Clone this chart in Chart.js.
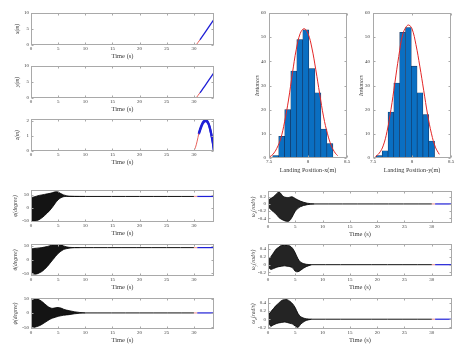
<!DOCTYPE html>
<html><head><meta charset="utf-8">
<script src="https://cdn.jsdelivr.net/npm/chart.js@4"></script>
<style>
html,body{margin:0;padding:0;background:#fff;}
body{width:474px;height:355px;position:relative;overflow:hidden;}
canvas{position:absolute;}
</style></head><body>
<script>
// ---------------- DATA ----------------
const TIME_MAX = 33.7;
const timeTicks  = [0, 5, 10, 15, 20, 25, 30];
const posTicks   = [0, 5, 10];
const zTicks     = [0, 1, 2];
const angTicks   = [-50, 0, 50];
const rateXTicks = [-0.4, -0.2, 0, 0.2];
const rateYTicks = [-0.2, 0, 0.2, 0.4];
const rateZTicks = [-0.2, 0, 0.2, 0.4];
const histYTicks = [0, 10, 20, 30, 40, 50, 60];
const histXTicks = [7.5, 8, 8.5];

// Position: red launch part, blue flight part
const xRedT = [30.4, 31.1];
const xRedV = [0, 1.6];
const xBlueT = [31.1, 32.0, 33.0, 33.7];
const xBlueV = [1.6, 3.8, 6.3, 8.0];
const yRedT = [30.4, 31.1];
const yRedV = [0, 1.6];
const yBlueT = [31.1, 32.0, 33.0, 33.7];
const yBlueV = [1.6, 3.7, 6.2, 7.9];
const zRedT = [30.0, 30.3, 30.6, 30.9];
const zRedV = [0, 0.25, 0.65, 1.15];
const zBlueT = [30.9, 31.2, 31.5, 31.8, 32.1, 32.4, 32.7, 33.0, 33.3, 33.5, 33.7];
const zBlueV = [1.15, 1.5, 1.78, 1.95, 2.02, 1.98, 1.8, 1.45, 0.95, 0.55, 0.0];
const zBlue2V = [1.1, 1.42, 1.7, 1.88, 1.96, 1.93, 1.76, 1.4, 0.9, 0.5, 0.0];

// Euler angle bundles (envelope of all Monte-Carlo runs)
const phiEnvT   = [0,0.5,1,1.5,2,2.5,3,3.5,4,4.5,5,5.5,6,6.5,7,8,9,10];
const phiUpper  = [40,43,46,49,51,53,55,57,60,63,62,56,51,48,46,45.3,45.1,45];
const phiLower  = [-52,-51,-49,-45,-38,-29,-19,-8,5,20,32,40,44,45,45,45,45,45];
const phiFinal  = 45;

const thetaEnvT  = [0,0.5,1,1.5,2,2.5,3,3.5,4,4.5,5,5.5,6,6.5,7,8,9];
const thetaUpper = [38,40,41,42,43,45,47,50,53,55,56,53,49,46,44,43,43];
const thetaLower = [-50,-52,-52,-48,-43,-35,-25,-13,-1,11,22,30,36,39,41,43,43];
const thetaFinal = 43;

const psiEnvT  = [0,0.4,1,1.5,2,2.5,3,3.5,4,4.5,5,5.5,6,6.5,7,8,9,10];
const psiUpper = [40,52,50,46,40,32,24,18,16,18,19,17,13,10,8,4,1.5,0];
const psiLower = [-40,-50,-48,-45,-40,-34,-28,-22,-18,-15,-12,-10,-8,-7,-6,-3,-1,0];
const psiFinal = 0;

// Angular rate bundles
const wxEnvT  = [0,0.7,1,1.7,2,2.9,3.8,4.4,5,5.9,7.2,8.5];
const wxUpper = [0.1,0.17,0.2,0.3,0.34,0.2,0.18,0.2,0.15,0.08,0.02,0];
const wxLower = [-0.08,-0.18,-0.22,-0.32,-0.38,-0.46,-0.48,-0.37,-0.2,-0.08,-0.02,0];

const wyEnvT  = [0,0.5,1,1.5,2,2.5,3,3.5,4,4.5,5,5.5,6,6.5,7,8];
const wyUpper = [0.1,0.2,0.3,0.4,0.45,0.5,0.5,0.5,0.48,0.42,0.3,0.15,0.06,0.03,0.01,0];
const wyLower = [-0.05,-0.12,-0.1,-0.07,-0.05,-0.04,-0.03,-0.04,-0.05,-0.08,-0.17,-0.18,-0.14,-0.09,-0.05,0];

const wzEnvT  = [0,0.5,1,1.5,2,2.5,3,3.5,4,4.5,5,5.5,6,6.5,7,8];
const wzUpper = [0.09,0.18,0.26,0.34,0.4,0.46,0.48,0.48,0.44,0.38,0.28,0.14,0.06,0.03,0.01,0];
const wzLower = [-0.07,-0.17,-0.14,-0.11,-0.09,-0.08,-0.07,-0.08,-0.1,-0.12,-0.17,-0.2,-0.12,-0.07,-0.03,0];

// Landing position histograms
const histXCenters = [7.586,7.663,7.740,7.818,7.895,7.972,8.050,8.127,8.204,8.281];
const histXCounts  = [1,9,20,36,49,53,37,27,12,6];
const fitXT = [7.51,7.55,7.60,7.65,7.70,7.75,7.80,7.85,7.90,7.95,8.00,8.05,8.10,8.15,8.20,8.25,8.30,8.35,8.38];
const fitXV = [0.5,1.5,4,8,15,24,35,45,51.5,53.5,51.5,45.5,36.5,26.5,17,10,5,2,1];

const histYCenters = [7.580,7.655,7.730,7.804,7.879,7.954,8.028,8.103,8.178,8.252];
const histYCounts  = [1,3,19,31,52,54,38,27,18,7];
const fitYT = [7.53,7.58,7.63,7.68,7.73,7.78,7.83,7.88,7.93,7.96,8.00,8.05,8.10,8.15,8.20,8.25,8.30,8.35];
const fitYV = [0.5,2,5,11,20,31,42,51,54.5,55,53.5,47,38,28,18,10,4.5,1.5];

// ---------------- HELPERS ----------------
const SERIF = "'Liberation Serif','DejaVu Serif',serif";
const TXT = '#3a3a3a';
const pts = (t, v) => t.map((x, i) => ({x, y: v[i]}));
const flat = (t0, t1, v) => [{x: t0, y: v}, {x: t1, y: v}];
const fmt = v => String(parseFloat(Number(v).toFixed(3)));

const boxPlugin = {
  id: 'matBox',
  afterDraw(chart) {
    const {ctx, chartArea: a, scales} = chart;
    const o = chart.options.plugins.matBox || {};
    ctx.save();
    ctx.strokeStyle = '#a9a9a9';
    ctx.lineWidth = 1;
    const L = Math.round(a.left) + 0.5, R = Math.round(a.right) - 0.5;
    const T = Math.round(a.top) + 0.5, B = Math.round(a.bottom) - 0.5;
    ctx.strokeRect(L, T, R - L, B - T);
    const tl = 2;
    ctx.beginPath();
    scales.x.ticks.forEach(t => {
      const p = Math.round(scales.x.getPixelForValue(t.value)) + 0.5;
      ctx.moveTo(p, B); ctx.lineTo(p, B - tl);
      ctx.moveTo(p, T); ctx.lineTo(p, T + tl);
    });
    scales.y.ticks.forEach(t => {
      const p = Math.round(scales.y.getPixelForValue(t.value)) + 0.5;
      ctx.moveTo(L, p); ctx.lineTo(L + tl, p);
      ctx.moveTo(R, p); ctx.lineTo(R - tl, p);
    });
    ctx.stroke();
    if (o.label) {
      const cx = a.left - o.labelOffset, cy = (a.top + a.bottom) / 2;
      ctx.translate(cx, cy);
      ctx.rotate(-Math.PI / 2);
      ctx.fillStyle = TXT;
      ctx.textBaseline = 'middle';
      const f1 = 'italic 5.5px ' + SERIF, f2 = 'italic 4px ' + SERIF;
      ctx.font = f1; const w1 = ctx.measureText(o.label[0]).width;
      ctx.font = f2; const w2 = ctx.measureText(o.label[1]).width;
      ctx.font = f1; const w3 = ctx.measureText(o.label[2]).width;
      let x = -(w1 + w2 + w3) / 2;
      ctx.textAlign = 'left';
      ctx.font = f1; ctx.fillText(o.label[0], x, 0); x += w1;
      ctx.font = f2; ctx.fillText(o.label[1], x, 1.5); x += w2;
      ctx.font = f1; ctx.fillText(o.label[2], x, 0);
    }
    ctx.restore();
  }
};

function makePanel(rect, p) {
  const [x0, y0, x1, y1] = rect;
  const PL = 30, PT = 6, PR = 8, PB = 15;
  const w = x1 - x0 + PL + PR, h = y1 - y0 + PT + PB;
  const cv = document.createElement('canvas');
  cv.width = w; cv.height = h;
  Object.assign(cv.style, {left: (x0 - PL) + 'px', top: (y0 - PT) + 'px', width: w + 'px', height: h + 'px'});
  document.body.appendChild(cv);
  const ytLH = 5.5;
  new Chart(cv, {
    type: p.type || 'line',
    data: {datasets: p.datasets},
    options: {
      responsive: false, animation: false, events: [],
      layout: {padding: {left: 0, top: PT, right: PR, bottom: 0}},
      plugins: {legend: {display: false}, tooltip: {enabled: false},
        matBox: {label: p.subLabel, labelOffset: p.yOff}},
      scales: {
        x: {
          type: 'linear', bounds: 'data', offset: false,
          min: p.xMin, max: p.xMax,
          afterBuildTicks(s) { s.ticks = p.xTicks.map(v => ({value: v})); },
          afterFit(s) { s.height = PB; },
          grid: {display: false, drawTicks: false}, border: {display: false},
          ticks: {padding: 1, color: TXT, maxRotation: 0, autoSkip: false, callback: fmt,
            font: {family: SERIF, size: 5, lineHeight: 1.2}},
          title: {display: true, text: p.xTitle, color: TXT, padding: 0,
            font: {family: SERIF, size: p.xTitleSize || 6.5, lineHeight: 1}}
        },
        y: {
          type: 'linear', bounds: 'data',
          min: p.yMin, max: p.yMax,
          afterBuildTicks(s) { s.ticks = p.yTicks.map(v => ({value: v})); },
          afterFit(s) { s.width = PL; },
          grid: {display: false, drawTicks: false}, border: {display: false},
          ticks: {padding: p.yPad || 2, color: TXT, autoSkip: false, callback: fmt,
            font: {family: SERIF, size: 5, lineHeight: 1.2}},
          title: {display: !p.subLabel, text: p.yTitle || '', color: TXT,
            padding: {top: PL - p.yOff - ytLH / 2, bottom: 0},
            font: {family: SERIF, size: ytLH, style: 'italic', lineHeight: 1}}
        }
      }
    },
    plugins: [boxPlugin]
  });
}

const BLUE = '#1f1fd6', RED = '#e8605a';
const line = (data, color, width) => ({type: 'line', data, borderColor: color, borderWidth: width || 1,
  pointRadius: 0, fill: false, tension: 0.3});

function posSets(rT, rV, bT, bV) {
  return [line(pts(rT, rV), RED, 1), line(pts(bT, bV), BLUE, 1.3)];
}

function bundleSets(envT, up, lo, fin, alpha) {
  const last = envT[envT.length - 1];
  return [
    {type: 'line', data: pts(envT, up), borderColor: '#000', borderWidth: 0.8, pointRadius: 0,
      backgroundColor: 'rgba(0,0,0,' + alpha + ')', fill: '+1', tension: 0.35},
    {type: 'line', data: pts(envT, lo), borderColor: '#000', borderWidth: 0.8, pointRadius: 0,
      fill: false, tension: 0.35},
    line(flat(last, 30.0, fin), '#111', 1),
    line(flat(30.0, 30.6, fin), '#f0a0a0', 1.2),
    line(flat(30.6, 33.7, fin), BLUE, 1.2)
  ];
}

const TX = {xMin: 0, xMax: TIME_MAX, xTicks: timeTicks, xTitle: 'Time (s)'};

// ---------------- LEFT COLUMN ----------------
makePanel([31, 13, 214, 45], {...TX, yMin: 0, yMax: 10, yTicks: posTicks, yTitle: 'x(m)', yOff: 13,
  datasets: posSets(xRedT, xRedV, xBlueT, xBlueV)});
makePanel([31, 66, 214, 98], {...TX, yMin: 0, yMax: 10, yTicks: posTicks, yTitle: 'y(m)', yOff: 13,
  datasets: posSets(yRedT, yRedV, yBlueT, yBlueV)});
makePanel([31, 119, 214, 151], {...TX, yMin: 0, yMax: 2.1, yTicks: zTicks, yTitle: 'z(m)', yOff: 13,
  datasets: [line(pts(zRedT, zRedV), RED, 1), line(pts(zBlueT, zBlueV), BLUE, 2.2), line(pts(zBlueT, zBlue2V), BLUE, 2.2)]});

makePanel([31, 190, 214, 222], {...TX, yMin: -54, yMax: 70, yTicks: angTicks, yTitle: 'φ(degree)', yOff: 15,
  datasets: bundleSets(phiEnvT, phiUpper, phiLower, phiFinal, 0.92)});
makePanel([31, 244, 214, 276], {...TX, yMin: -59, yMax: 56, yTicks: angTicks, yTitle: 'θ(degree)', yOff: 15,
  datasets: bundleSets(thetaEnvT, thetaUpper, thetaLower, thetaFinal, 0.92)});
makePanel([31, 298, 214, 329], {...TX, yMin: -56, yMax: 52, yTicks: angTicks, yTitle: 'ψ(degree)', yOff: 15,
  datasets: bundleSets(psiEnvT, psiUpper, psiLower, psiFinal, 0.92)});

// ---------------- RIGHT COLUMN ----------------
function histSets(c, n, ft, fv) {
  return [
    {type: 'line', data: pts(ft, fv), borderColor: '#e32626', borderWidth: 1, pointRadius: 0, tension: 0.4, fill: false},
    {type: 'bar', data: pts(c, n), backgroundColor: '#0a6fc2', borderColor: '#14305a', borderWidth: 0.6,
      barPercentage: 1, categoryPercentage: 1, grouped: false}
  ];
}
makePanel([269, 13, 347, 158], {type: 'bar', xMin: 7.5, xMax: 8.5, xTicks: histXTicks, xTitle: 'Landing Position-x(m)',
  xTitleSize: 6.2, yMin: 0, yMax: 60, yTicks: histYTicks, yTitle: 'Instances', yOff: 11.5, yPad: 3,
  datasets: histSets(histXCenters, histXCounts, fitXT, fitXV)});
makePanel([373, 13, 451, 158], {type: 'bar', xMin: 7.5, xMax: 8.5, xTicks: histXTicks, xTitle: 'Landing Position-y(m)',
  xTitleSize: 6.2, yMin: 0, yMax: 60, yTicks: histYTicks, yTitle: 'Instances', yOff: 11.5, yPad: 3,
  datasets: histSets(histYCenters, histYCounts, fitYT, fitYV)});

makePanel([268, 191, 452, 223], {...TX, yMin: -0.53, yMax: 0.36, yTicks: rateXTicks, subLabel: ['ω', 'x', '(rad/s)'], yOff: 14,
  datasets: bundleSets(wxEnvT, wxUpper, wxLower, 0, 0.86)});
makePanel([268, 244, 452, 276], {...TX, yMin: -0.29, yMax: 0.53, yTicks: rateYTicks, subLabel: ['ω', 'y', '(rad/s)'], yOff: 14,
  datasets: bundleSets(wyEnvT, wyUpper, wyLower, 0, 0.86)});
makePanel([268, 298, 452, 329], {...TX, yMin: -0.24, yMax: 0.52, yTicks: rateZTicks, subLabel: ['ω', 'z', '(rad/s)'], yOff: 14,
  datasets: bundleSets(wzEnvT, wzUpper, wzLower, 0, 0.86)});
</script>
</body></html>
